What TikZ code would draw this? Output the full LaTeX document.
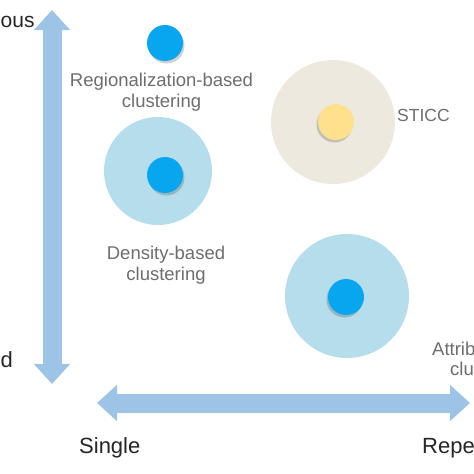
\documentclass[tikz,border=0pt]{standalone}
\usepackage{fontspec}
\setmainfont{Liberation Sans}
\usetikzlibrary{arrows.meta}
\definecolor{axisblue}{HTML}{9DC3E6}
\definecolor{dotblue}{HTML}{07A6EE}
\definecolor{haloblue}{HTML}{B6DDEC}
\definecolor{halobeige}{HTML}{EEE9DF}
\definecolor{dotyellow}{HTML}{FFE08C}
\definecolor{labelgray}{HTML}{6E6E6E}
\definecolor{axistext}{HTML}{262626}
\tikzset{
  axisarrow/.style={draw=axisblue, line width=19pt,
    arrows={Triangle[width=35pt,length=20pt]-Triangle[width=35pt,length=20pt]}},
  halo/.style={circle, inner sep=0pt, minimum size=#1},
  dotshadow/.style={circle, fill=black, opacity=0.18, inner sep=0pt, minimum size=36pt},
  dot/.style={circle, inner sep=0pt, minimum size=36pt},
  methodlabel/.style={font=\fontsize{18.5}{20.5}\selectfont, text=labelgray, align=center, anchor=base, inner sep=0pt},
  axislabel/.style={font=\fontsize{22}{26}\selectfont, text=axistext, inner sep=0pt, anchor=base west},
}
\begin{document}
\begin{tikzpicture}[x=1pt,y=-1pt]
\clip (0,0) rectangle (474,474);
\fill[white] (0,0) rectangle (474,474);
% axes
\coordinate (vtop) at (52,10);
\coordinate (vbot) at (52,384);
\coordinate (hleft) at (97,403);
\coordinate (hright) at (470,403);
\draw[axisarrow] (vbot) -- (vtop);
\draw[axisarrow] (hleft) -- (hright);
% halos
\node[halo=108pt, fill=haloblue] (hdens) at (158,171) {};
\node[halo=124pt, fill=halobeige] (hsticc) at (333,122) {};
\node[halo=124pt, fill=haloblue] (hattr) at (347,296) {};
% dots with soft shadow
\node[dotshadow] (sreg) at (166.5,45.5) {};
\node[dot, fill=dotblue] (dreg) at (165,43) {};
\node[dotshadow] (sdens) at (166.5,177.5) {};
\node[dot, fill=dotblue] (ddens) at (165,175) {};
\node[dotshadow] (ssticc) at (334.5,124.5) {};
\node[dot, fill=dotyellow] (dsticc) at (336,122) {};
\node[dotshadow] (sattr) at (344.5,299.5) {};
\node[dot, fill=dotblue] (dattr) at (346,297) {};
% labels (base anchor = baseline of the last line)
\node[methodlabel] (lreg) at (161.5,107) {Regionalization-based\\clustering};
\node[methodlabel] (ldens) at (166,280) {Density-based\\clustering};
\node[methodlabel, anchor=base west, font=\fontsize{17.5}{20}\selectfont] (lsticc) at (397,121) {STICC};
\node[methodlabel, anchor=base west] (lattr1) at (432,355) {Attrib};
\node[methodlabel, anchor=base west] (lattr2) at (450,375) {clu};
\node[axislabel, font=\fontsize{21}{25}\selectfont] (ltop) at (0.5,27) {ous};
\node[axislabel] (lbot) at (0.5,367) {d};
\node[axislabel] (lsingle) at (79,453) {Single};
\node[axislabel] (lrepe) at (422,453) {Repe};
\end{tikzpicture}
\end{document}
